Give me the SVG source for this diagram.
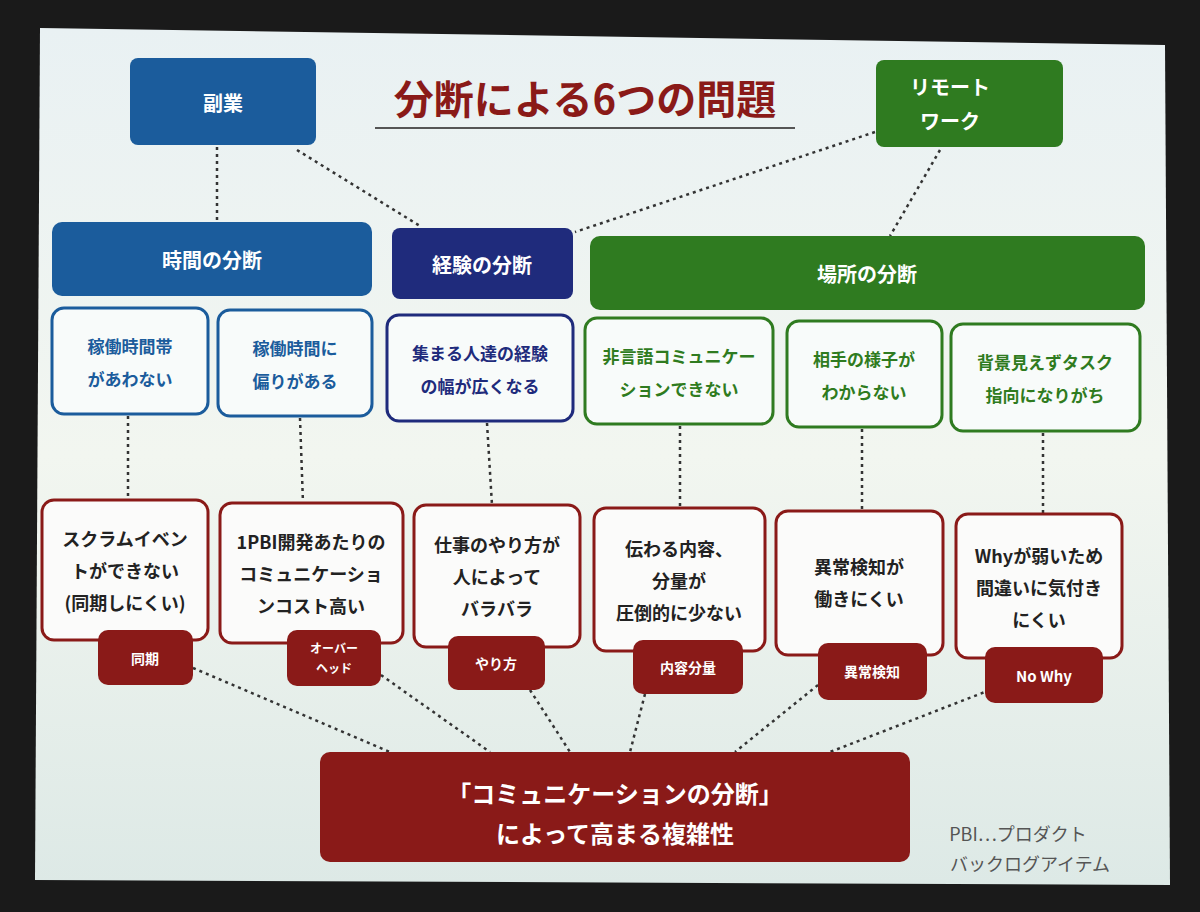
<svg xmlns="http://www.w3.org/2000/svg" width="1200" height="912" viewBox="0 0 1200 912">
<defs>
<linearGradient id="bg" x1="0" y1="0" x2="0" y2="1">
<stop offset="0" stop-color="#e9f1f3"/><stop offset="0.5" stop-color="#f2f6f0"/><stop offset="1" stop-color="#dde9e6"/>
</linearGradient>
<style>
text{font-family:"Noto Sans CJK JP","Noto Sans",sans-serif;font-weight:bold;text-anchor:middle;dominant-baseline:central}
.w{fill:#fff;font-size:20px}
.blue{fill:#1b5c9c}.navy{fill:#1f2b7c}.green{fill:#2f7b20}.red{fill:#8a1a18}
.bb{fill:#f8fbfa;stroke:#1b5c9c;stroke-width:3}
.nb{fill:#f8fbfa;stroke:#1f2b7c;stroke-width:3}
.gb{fill:#f8fbfa;stroke:#2f7b20;stroke-width:3}
.rb{fill:#fbfbfa;stroke:#8a1a18;stroke-width:3}
.tb{font-size:17px}.tn{font-size:17px;fill:#1f2b7c}.tg{font-size:17px;fill:#2f7b20}.tbl{font-size:17px;fill:#1b5c9c}
.tr{font-size:18px;fill:#222}
.tag{fill:#fff;font-size:14px}
#conn line{stroke:#333;stroke-width:2.5;stroke-dasharray:3 4}
</style>
</defs>
<rect width="1200" height="912" fill="#1a1a1a"/>
<polygon points="40,28 1165,45 1170,885 35,880" fill="url(#bg)"/>
<g id="title"><text x="585" y="97" style="font-size:40px;fill:#8a1a18">分断による6つの問題</text>
<line x1="375" y1="128" x2="795" y2="128" stroke="#555" stroke-width="2"/></g>
<g id="conn">
<line x1="217" y1="147" x2="217" y2="222"/>
<line x1="297" y1="150" x2="420" y2="226"/>
<line x1="940" y1="150" x2="890" y2="236"/>
<line x1="875" y1="132" x2="575" y2="232"/>
<line x1="128" y1="416" x2="128" y2="500"/>
<line x1="300" y1="418" x2="303" y2="503"/>
<line x1="487" y1="423" x2="492" y2="505"/>
<line x1="680" y1="426" x2="680" y2="508"/>
<line x1="862" y1="429" x2="862" y2="511"/>
<line x1="1043" y1="433" x2="1043" y2="514"/>
<line x1="193" y1="668" x2="390" y2="752"/>
<line x1="381" y1="675" x2="490" y2="752"/>
<line x1="530" y1="690" x2="570" y2="752"/>
<line x1="645" y1="694" x2="630" y2="752"/>
<line x1="818" y1="685" x2="735" y2="752"/>
<line x1="990" y1="690" x2="830" y2="752"/>
</g>
<g id="fukugyo"><rect x="130" y="58" width="186" height="87" rx="8" class="blue"/><text x="223" y="102" class="w">副業</text></g>
<g id="remote"><rect x="876" y="60" width="187" height="87" rx="8" class="green"/><text x="950" y="86" class="w">リモート</text><text x="950" y="120" class="w">ワーク</text></g>
<g id="jikan"><rect x="52" y="222" width="320" height="74" rx="10" class="blue"/><text x="212" y="259" class="w">時間の分断</text></g>
<g id="keiken"><rect x="392" y="228" width="181" height="71" rx="8" class="navy"/><text x="482" y="264" class="w">経験の分断</text></g>
<g id="basho"><rect x="590" y="236" width="555" height="74" rx="10" class="green"/><text x="867" y="273" class="w">場所の分断</text></g>
<g id="b1"><rect x="52" y="308" width="156" height="106" rx="12" class="bb"/><text x="130" y="345" class="tbl">稼働時間帯</text><text x="130" y="378" class="tbl">があわない</text></g>
<g id="b2"><rect x="218" y="310" width="154" height="106" rx="12" class="bb"/><text x="295" y="347" class="tbl">稼働時間に</text><text x="295" y="380" class="tbl">偏りがある</text></g>
<g id="b3"><rect x="387" y="315" width="186" height="106" rx="12" class="nb"/><text x="480" y="352" class="tn">集まる人達の経験</text><text x="480" y="385" class="tn">の幅が広くなる</text></g>
<g id="b4"><rect x="585" y="318" width="188" height="106" rx="12" class="gb"/><text x="679" y="355" class="tg">非言語コミュニケー</text><text x="679" y="388" class="tg">ションできない</text></g>
<g id="b5"><rect x="787" y="321" width="155" height="106" rx="12" class="gb"/><text x="864" y="358" class="tg">相手の様子が</text><text x="864" y="391" class="tg">わからない</text></g>
<g id="b6"><rect x="951" y="324" width="189" height="107" rx="12" class="gb"/><text x="1045" y="361" class="tg">背景見えずタスク</text><text x="1045" y="394" class="tg">指向になりがち</text></g>
<g id="c1"><rect x="42" y="500" width="166" height="140" rx="12" class="rb"/><text x="125" y="538" class="tr">スクラムイベン</text><text x="125" y="570" class="tr">トができない</text><text x="125" y="602" class="tr">(同期しにくい)</text></g>
<g id="c2"><rect x="220" y="503" width="183" height="140" rx="12" class="rb"/><text x="311" y="541" class="tr">1PBI開発あたりの</text><text x="311" y="573" class="tr">コミュニケーショ</text><text x="311" y="605" class="tr">ンコスト高い</text></g>
<g id="c3"><rect x="414" y="505" width="166" height="142" rx="12" class="rb"/><text x="497" y="544" class="tr">仕事のやり方が</text><text x="497" y="576" class="tr">人によって</text><text x="497" y="608" class="tr">バラバラ</text></g>
<g id="c4"><rect x="594" y="508" width="171" height="143" rx="12" class="rb"/><text x="679" y="548" class="tr">伝わる内容、</text><text x="679" y="580" class="tr">分量が</text><text x="679" y="612" class="tr">圧倒的に少ない</text></g>
<g id="c5"><rect x="776" y="511" width="167" height="144" rx="12" class="rb"/><text x="859" y="566" class="tr">異常検知が</text><text x="859" y="598" class="tr">働きにくい</text></g>
<g id="c6"><rect x="956" y="514" width="166" height="144" rx="12" class="rb"/><text x="1039" y="555" class="tr">Whyが弱いため</text><text x="1039" y="587" class="tr">間違いに気付き</text><text x="1039" y="619" class="tr">にくい</text></g>
<g id="t1"><rect x="98" y="630" width="95" height="55" rx="10" class="red"/><text x="145" y="658" class="tag">同期</text></g>
<g id="t2"><rect x="287" y="630" width="94" height="56" rx="10" class="red"/><text x="334" y="647" class="tag" style="font-size:12px">オーバー</text><text x="334" y="667" class="tag" style="font-size:12px">ヘッド</text></g>
<g id="t3"><rect x="448" y="636" width="97" height="54" rx="10" class="red"/><text x="496" y="663" class="tag">やり方</text></g>
<g id="t4"><rect x="633" y="640" width="110" height="54" rx="10" class="red"/><text x="688" y="667" class="tag">内容分量</text></g>
<g id="t5"><rect x="818" y="643" width="109" height="57" rx="10" class="red"/><text x="872" y="671" class="tag">異常検知</text></g>
<g id="t6"><rect x="985" y="647" width="118" height="56" rx="10" class="red"/><text x="1044" y="675" class="tag" style="font-size:15px">No Why</text></g>
<g id="bottom"><rect x="320" y="752" width="590" height="110" rx="10" class="red"/><text x="615" y="792" class="w" style="font-size:24px">「コミュニケーションの分断」</text><text x="615" y="832" class="w" style="font-size:24px">によって高まる複雑性</text></g>
<g id="note"><text x="1018" y="833" style="font-size:18px;fill:#555;font-weight:normal">PBI…プロダクト</text><text x="1030" y="863" style="font-size:18px;fill:#555;font-weight:normal">バックログアイテム</text></g>
</svg>
